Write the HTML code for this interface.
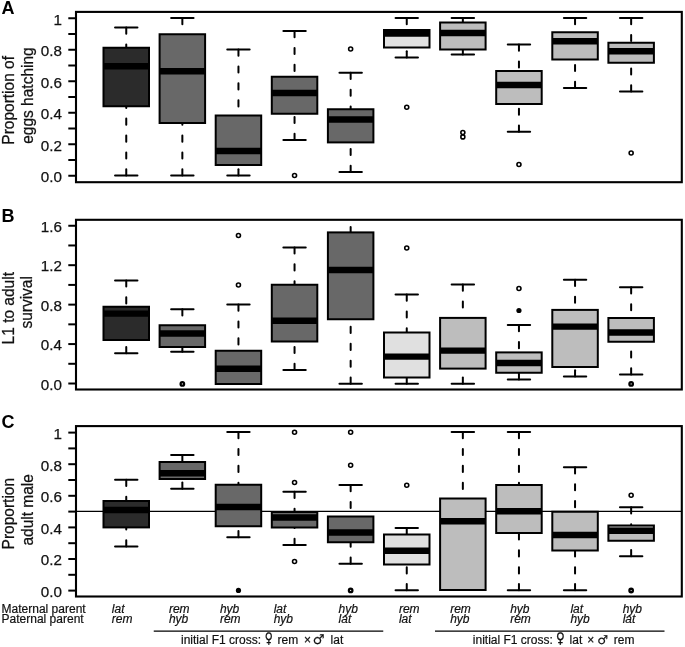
<!DOCTYPE html>
<html><head><meta charset="utf-8"><title>Figure</title>
<style>
html,body{margin:0;padding:0;background:#fff;}
svg{display:block}
text{font-family:"Liberation Sans",Arial,Helvetica,sans-serif;fill:#111}
 .tl{font-size:15.2px;stroke:#111;stroke-width:0.25px}
.yl{font-size:15.5px;stroke:#111;stroke-width:0.25px}
.pl{font-size:18px;font-weight:bold;fill:#000}
.bl{font-size:12px;stroke:#111;stroke-width:0.2px}
.it{font-size:12px;font-style:italic;stroke:#111;stroke-width:0.2px}
.sym{font-size:12px;font-family:"DejaVu Sans","Liberation Sans",sans-serif}
</style></head><body>
<svg width="685" height="647" viewBox="0 0 685 647">
<rect width="685" height="647" fill="#fff"/>
<text x="1.6" y="13.8" class="pl">A</text>
<text transform="translate(13.6,144.7) rotate(-90) scale(1,1.08)" class="yl">Proportion of</text>
<text transform="translate(33.0,143.8) rotate(-90) scale(1,1.08)" class="yl">eggs hatching</text>
<line x1="68.3" y1="18.25" x2="76.0" y2="18.25" stroke="#000" stroke-width="2.0"/>
<line x1="68.3" y1="34.00" x2="76.0" y2="34.00" stroke="#000" stroke-width="2.0"/>
<line x1="68.3" y1="49.75" x2="76.0" y2="49.75" stroke="#000" stroke-width="2.0"/>
<line x1="68.3" y1="65.50" x2="76.0" y2="65.50" stroke="#000" stroke-width="2.0"/>
<line x1="68.3" y1="81.25" x2="76.0" y2="81.25" stroke="#000" stroke-width="2.0"/>
<line x1="68.3" y1="97.00" x2="76.0" y2="97.00" stroke="#000" stroke-width="2.0"/>
<line x1="68.3" y1="112.75" x2="76.0" y2="112.75" stroke="#000" stroke-width="2.0"/>
<line x1="68.3" y1="128.50" x2="76.0" y2="128.50" stroke="#000" stroke-width="2.0"/>
<line x1="68.3" y1="144.25" x2="76.0" y2="144.25" stroke="#000" stroke-width="2.0"/>
<line x1="68.3" y1="160.00" x2="76.0" y2="160.00" stroke="#000" stroke-width="2.0"/>
<line x1="68.3" y1="175.75" x2="76.0" y2="175.75" stroke="#000" stroke-width="2.0"/>
<text transform="translate(61.9,24.55) scale(1,1.0)" text-anchor="end" class="tl">1</text>
<text transform="translate(61.9,56.05) scale(1,1.0)" text-anchor="end" class="tl">0.8</text>
<text transform="translate(61.9,87.55) scale(1,1.0)" text-anchor="end" class="tl">0.6</text>
<text transform="translate(61.9,119.05) scale(1,1.0)" text-anchor="end" class="tl">0.4</text>
<text transform="translate(61.9,150.55) scale(1,1.0)" text-anchor="end" class="tl">0.2</text>
<text transform="translate(61.9,182.05) scale(1,1.0)" text-anchor="end" class="tl">0.0</text>
<line x1="126.25" y1="27.50" x2="126.25" y2="47.75" stroke="#000" stroke-width="2.0" stroke-dasharray="6.2 10.7" stroke-linecap="round"/>
<line x1="115.05" y1="27.50" x2="137.45" y2="27.50" stroke="#000" stroke-width="2.0" stroke-linecap="round"/>
<line x1="126.25" y1="175.50" x2="126.25" y2="106.25" stroke="#000" stroke-width="2.0" stroke-dasharray="6.2 10.7" stroke-linecap="round"/>
<line x1="115.05" y1="175.50" x2="137.45" y2="175.50" stroke="#000" stroke-width="2.0" stroke-linecap="round"/>
<rect x="103.50" y="47.75" width="45.50" height="58.50" fill="#2b2b2b" stroke="#000" stroke-width="2.0"/>
<line x1="103.50" y1="66.30" x2="149.00" y2="66.30" stroke="#000" stroke-width="6.4"/>
<line x1="182.35" y1="18.00" x2="182.35" y2="34.25" stroke="#000" stroke-width="2.0" stroke-dasharray="6.2 10.7" stroke-linecap="round"/>
<line x1="171.15" y1="18.00" x2="193.55" y2="18.00" stroke="#000" stroke-width="2.0" stroke-linecap="round"/>
<line x1="182.35" y1="175.50" x2="182.35" y2="123.00" stroke="#000" stroke-width="2.0" stroke-dasharray="6.2 10.7" stroke-linecap="round"/>
<line x1="171.15" y1="175.50" x2="193.55" y2="175.50" stroke="#000" stroke-width="2.0" stroke-linecap="round"/>
<rect x="159.60" y="34.25" width="45.50" height="88.75" fill="#686868" stroke="#000" stroke-width="2.0"/>
<line x1="159.60" y1="71.25" x2="205.10" y2="71.25" stroke="#000" stroke-width="6.4"/>
<line x1="238.45" y1="49.50" x2="238.45" y2="115.50" stroke="#000" stroke-width="2.0" stroke-dasharray="6.2 10.7" stroke-linecap="round"/>
<line x1="227.25" y1="49.50" x2="249.65" y2="49.50" stroke="#000" stroke-width="2.0" stroke-linecap="round"/>
<line x1="238.45" y1="175.50" x2="238.45" y2="165.00" stroke="#000" stroke-width="2.0" stroke-dasharray="6.2 10.7" stroke-linecap="round"/>
<line x1="227.25" y1="175.50" x2="249.65" y2="175.50" stroke="#000" stroke-width="2.0" stroke-linecap="round"/>
<rect x="215.70" y="115.50" width="45.50" height="49.50" fill="#686868" stroke="#000" stroke-width="2.0"/>
<line x1="215.70" y1="151.00" x2="261.20" y2="151.00" stroke="#000" stroke-width="6.4"/>
<line x1="294.55" y1="31.00" x2="294.55" y2="76.75" stroke="#000" stroke-width="2.0" stroke-dasharray="6.2 10.7" stroke-linecap="round"/>
<line x1="283.35" y1="31.00" x2="305.75" y2="31.00" stroke="#000" stroke-width="2.0" stroke-linecap="round"/>
<line x1="294.55" y1="140.00" x2="294.55" y2="113.75" stroke="#000" stroke-width="2.0" stroke-dasharray="6.2 10.7" stroke-linecap="round"/>
<line x1="283.35" y1="140.00" x2="305.75" y2="140.00" stroke="#000" stroke-width="2.0" stroke-linecap="round"/>
<rect x="271.80" y="76.75" width="45.50" height="37.00" fill="#686868" stroke="#000" stroke-width="2.0"/>
<line x1="271.80" y1="93.00" x2="317.30" y2="93.00" stroke="#000" stroke-width="6.4"/>
<circle cx="294.55" cy="175.50" r="2.0" fill="none" stroke="#000" stroke-width="1.6"/>
<line x1="350.65" y1="72.75" x2="350.65" y2="109.25" stroke="#000" stroke-width="2.0" stroke-dasharray="6.2 10.7" stroke-linecap="round"/>
<line x1="339.45" y1="72.75" x2="361.85" y2="72.75" stroke="#000" stroke-width="2.0" stroke-linecap="round"/>
<line x1="350.65" y1="172.00" x2="350.65" y2="142.40" stroke="#000" stroke-width="2.0" stroke-dasharray="6.2 10.7" stroke-linecap="round"/>
<line x1="339.45" y1="172.00" x2="361.85" y2="172.00" stroke="#000" stroke-width="2.0" stroke-linecap="round"/>
<rect x="327.90" y="109.25" width="45.50" height="33.15" fill="#686868" stroke="#000" stroke-width="2.0"/>
<line x1="327.90" y1="119.50" x2="373.40" y2="119.50" stroke="#000" stroke-width="6.4"/>
<circle cx="350.65" cy="49.00" r="2.0" fill="none" stroke="#000" stroke-width="1.6"/>
<line x1="406.75" y1="18.00" x2="406.75" y2="30.00" stroke="#000" stroke-width="2.0" stroke-dasharray="6.2 10.7" stroke-linecap="round"/>
<line x1="395.55" y1="18.00" x2="417.95" y2="18.00" stroke="#000" stroke-width="2.0" stroke-linecap="round"/>
<line x1="406.75" y1="57.50" x2="406.75" y2="47.50" stroke="#000" stroke-width="2.0" stroke-dasharray="6.2 10.7" stroke-linecap="round"/>
<line x1="395.55" y1="57.50" x2="417.95" y2="57.50" stroke="#000" stroke-width="2.0" stroke-linecap="round"/>
<rect x="384.00" y="30.00" width="45.50" height="17.50" fill="#e0e0e0" stroke="#000" stroke-width="2.0"/>
<line x1="384.00" y1="33.60" x2="429.50" y2="33.60" stroke="#000" stroke-width="6.4"/>
<circle cx="406.75" cy="107.25" r="2.0" fill="none" stroke="#000" stroke-width="1.6"/>
<line x1="462.85" y1="18.00" x2="462.85" y2="22.50" stroke="#000" stroke-width="2.0" stroke-dasharray="6.2 10.7" stroke-linecap="round"/>
<line x1="451.65" y1="18.00" x2="474.05" y2="18.00" stroke="#000" stroke-width="2.0" stroke-linecap="round"/>
<line x1="462.85" y1="54.50" x2="462.85" y2="49.50" stroke="#000" stroke-width="2.0" stroke-dasharray="6.2 10.7" stroke-linecap="round"/>
<line x1="451.65" y1="54.50" x2="474.05" y2="54.50" stroke="#000" stroke-width="2.0" stroke-linecap="round"/>
<rect x="440.10" y="22.50" width="45.50" height="27.00" fill="#bdbdbd" stroke="#000" stroke-width="2.0"/>
<line x1="440.10" y1="33.00" x2="485.60" y2="33.00" stroke="#000" stroke-width="6.4"/>
<circle cx="462.85" cy="132.50" r="2.0" fill="none" stroke="#000" stroke-width="1.6"/>
<circle cx="462.85" cy="136.90" r="2.0" fill="none" stroke="#000" stroke-width="1.6"/>
<line x1="518.95" y1="44.50" x2="518.95" y2="71.00" stroke="#000" stroke-width="2.0" stroke-dasharray="6.2 10.7" stroke-linecap="round"/>
<line x1="507.75" y1="44.50" x2="530.15" y2="44.50" stroke="#000" stroke-width="2.0" stroke-linecap="round"/>
<line x1="518.95" y1="131.75" x2="518.95" y2="104.00" stroke="#000" stroke-width="2.0" stroke-dasharray="6.2 10.7" stroke-linecap="round"/>
<line x1="507.75" y1="131.75" x2="530.15" y2="131.75" stroke="#000" stroke-width="2.0" stroke-linecap="round"/>
<rect x="496.20" y="71.00" width="45.50" height="33.00" fill="#bdbdbd" stroke="#000" stroke-width="2.0"/>
<line x1="496.20" y1="85.00" x2="541.70" y2="85.00" stroke="#000" stroke-width="6.4"/>
<circle cx="518.95" cy="164.50" r="2.0" fill="none" stroke="#000" stroke-width="1.6"/>
<line x1="575.05" y1="18.00" x2="575.05" y2="32.25" stroke="#000" stroke-width="2.0" stroke-dasharray="6.2 10.7" stroke-linecap="round"/>
<line x1="563.85" y1="18.00" x2="586.25" y2="18.00" stroke="#000" stroke-width="2.0" stroke-linecap="round"/>
<line x1="575.05" y1="88.00" x2="575.05" y2="59.50" stroke="#000" stroke-width="2.0" stroke-dasharray="6.2 10.7" stroke-linecap="round"/>
<line x1="563.85" y1="88.00" x2="586.25" y2="88.00" stroke="#000" stroke-width="2.0" stroke-linecap="round"/>
<rect x="552.30" y="32.25" width="45.50" height="27.25" fill="#bdbdbd" stroke="#000" stroke-width="2.0"/>
<line x1="552.30" y1="41.25" x2="597.80" y2="41.25" stroke="#000" stroke-width="6.4"/>
<line x1="631.15" y1="18.00" x2="631.15" y2="42.75" stroke="#000" stroke-width="2.0" stroke-dasharray="6.2 10.7" stroke-linecap="round"/>
<line x1="619.95" y1="18.00" x2="642.35" y2="18.00" stroke="#000" stroke-width="2.0" stroke-linecap="round"/>
<line x1="631.15" y1="91.50" x2="631.15" y2="62.75" stroke="#000" stroke-width="2.0" stroke-dasharray="6.2 10.7" stroke-linecap="round"/>
<line x1="619.95" y1="91.50" x2="642.35" y2="91.50" stroke="#000" stroke-width="2.0" stroke-linecap="round"/>
<rect x="608.40" y="42.75" width="45.50" height="20.00" fill="#bdbdbd" stroke="#000" stroke-width="2.0"/>
<line x1="608.40" y1="51.25" x2="653.90" y2="51.25" stroke="#000" stroke-width="6.4"/>
<circle cx="631.15" cy="153.00" r="2.0" fill="none" stroke="#000" stroke-width="1.6"/>
<rect x="76.0" y="11.9" width="605.8" height="170.29999999999998" fill="none" stroke="#000" stroke-width="2.1"/>
<text x="1.4" y="222" class="pl">B</text>
<text transform="translate(13.8,344.4) rotate(-90) scale(1,1.08)" class="yl">L1 to adult</text>
<text transform="translate(32.0,328.6) rotate(-90) scale(1,1.08)" class="yl">survival</text>
<line x1="68.3" y1="225.75" x2="76.0" y2="225.75" stroke="#000" stroke-width="2.0"/>
<line x1="68.3" y1="245.47" x2="76.0" y2="245.47" stroke="#000" stroke-width="2.0"/>
<line x1="68.3" y1="265.19" x2="76.0" y2="265.19" stroke="#000" stroke-width="2.0"/>
<line x1="68.3" y1="284.91" x2="76.0" y2="284.91" stroke="#000" stroke-width="2.0"/>
<line x1="68.3" y1="304.63" x2="76.0" y2="304.63" stroke="#000" stroke-width="2.0"/>
<line x1="68.3" y1="324.35" x2="76.0" y2="324.35" stroke="#000" stroke-width="2.0"/>
<line x1="68.3" y1="344.07" x2="76.0" y2="344.07" stroke="#000" stroke-width="2.0"/>
<line x1="68.3" y1="363.79" x2="76.0" y2="363.79" stroke="#000" stroke-width="2.0"/>
<line x1="68.3" y1="383.51" x2="76.0" y2="383.51" stroke="#000" stroke-width="2.0"/>
<text transform="translate(61.9,232.05) scale(1,1.0)" text-anchor="end" class="tl">1.6</text>
<text transform="translate(61.9,271.49) scale(1,1.0)" text-anchor="end" class="tl">1.2</text>
<text transform="translate(61.9,310.93) scale(1,1.0)" text-anchor="end" class="tl">0.8</text>
<text transform="translate(61.9,350.37) scale(1,1.0)" text-anchor="end" class="tl">0.4</text>
<text transform="translate(61.9,389.81) scale(1,1.0)" text-anchor="end" class="tl">0.0</text>
<line x1="126.25" y1="280.40" x2="126.25" y2="306.75" stroke="#000" stroke-width="2.0" stroke-dasharray="6.2 10.7" stroke-linecap="round"/>
<line x1="115.05" y1="280.40" x2="137.45" y2="280.40" stroke="#000" stroke-width="2.0" stroke-linecap="round"/>
<line x1="126.25" y1="353.20" x2="126.25" y2="340.00" stroke="#000" stroke-width="2.0" stroke-dasharray="6.2 10.7" stroke-linecap="round"/>
<line x1="115.05" y1="353.20" x2="137.45" y2="353.20" stroke="#000" stroke-width="2.0" stroke-linecap="round"/>
<rect x="103.50" y="306.75" width="45.50" height="33.25" fill="#2b2b2b" stroke="#000" stroke-width="2.0"/>
<line x1="103.50" y1="313.60" x2="149.00" y2="313.60" stroke="#000" stroke-width="6.4"/>
<line x1="182.35" y1="309.25" x2="182.35" y2="325.25" stroke="#000" stroke-width="2.0" stroke-dasharray="6.2 10.7" stroke-linecap="round"/>
<line x1="171.15" y1="309.25" x2="193.55" y2="309.25" stroke="#000" stroke-width="2.0" stroke-linecap="round"/>
<line x1="182.35" y1="351.75" x2="182.35" y2="347.00" stroke="#000" stroke-width="2.0" stroke-dasharray="6.2 10.7" stroke-linecap="round"/>
<line x1="171.15" y1="351.75" x2="193.55" y2="351.75" stroke="#000" stroke-width="2.0" stroke-linecap="round"/>
<rect x="159.60" y="325.25" width="45.50" height="21.75" fill="#686868" stroke="#000" stroke-width="2.0"/>
<line x1="159.60" y1="333.50" x2="205.10" y2="333.50" stroke="#000" stroke-width="6.4"/>
<circle cx="182.35" cy="383.90" r="1.75" fill="none" stroke="#000" stroke-width="2.3"/>
<line x1="238.45" y1="304.50" x2="238.45" y2="350.75" stroke="#000" stroke-width="2.0" stroke-dasharray="6.2 10.7" stroke-linecap="round"/>
<line x1="227.25" y1="304.50" x2="249.65" y2="304.50" stroke="#000" stroke-width="2.0" stroke-linecap="round"/>
<line x1="238.45" y1="384.00" x2="238.45" y2="384.00" stroke="#000" stroke-width="2.0" stroke-dasharray="6.2 10.7" stroke-linecap="round"/>
<line x1="227.25" y1="384.00" x2="249.65" y2="384.00" stroke="#000" stroke-width="2.0" stroke-linecap="round"/>
<rect x="215.70" y="350.75" width="45.50" height="33.25" fill="#686868" stroke="#000" stroke-width="2.0"/>
<line x1="215.70" y1="368.75" x2="261.20" y2="368.75" stroke="#000" stroke-width="6.4"/>
<circle cx="238.45" cy="235.50" r="2.0" fill="none" stroke="#000" stroke-width="1.6"/>
<circle cx="238.45" cy="285.00" r="2.0" fill="none" stroke="#000" stroke-width="1.6"/>
<line x1="294.55" y1="247.40" x2="294.55" y2="284.75" stroke="#000" stroke-width="2.0" stroke-dasharray="6.2 10.7" stroke-linecap="round"/>
<line x1="283.35" y1="247.40" x2="305.75" y2="247.40" stroke="#000" stroke-width="2.0" stroke-linecap="round"/>
<line x1="294.55" y1="370.00" x2="294.55" y2="341.50" stroke="#000" stroke-width="2.0" stroke-dasharray="6.2 10.7" stroke-linecap="round"/>
<line x1="283.35" y1="370.00" x2="305.75" y2="370.00" stroke="#000" stroke-width="2.0" stroke-linecap="round"/>
<rect x="271.80" y="284.75" width="45.50" height="56.75" fill="#686868" stroke="#000" stroke-width="2.0"/>
<line x1="271.80" y1="320.75" x2="317.30" y2="320.75" stroke="#000" stroke-width="6.4"/>
<line x1="350.65" y1="227.00" x2="350.65" y2="232.40" stroke="#000" stroke-width="2.0" stroke-dasharray="6.2 10.7" stroke-linecap="round"/>
<line x1="350.65" y1="383.75" x2="350.65" y2="319.25" stroke="#000" stroke-width="2.0" stroke-dasharray="6.2 10.7" stroke-linecap="round"/>
<line x1="339.45" y1="383.75" x2="361.85" y2="383.75" stroke="#000" stroke-width="2.0" stroke-linecap="round"/>
<rect x="327.90" y="232.40" width="45.50" height="86.85" fill="#686868" stroke="#000" stroke-width="2.0"/>
<line x1="327.90" y1="270.00" x2="373.40" y2="270.00" stroke="#000" stroke-width="6.4"/>
<line x1="406.75" y1="294.50" x2="406.75" y2="332.50" stroke="#000" stroke-width="2.0" stroke-dasharray="6.2 10.7" stroke-linecap="round"/>
<line x1="395.55" y1="294.50" x2="417.95" y2="294.50" stroke="#000" stroke-width="2.0" stroke-linecap="round"/>
<line x1="406.75" y1="383.75" x2="406.75" y2="377.50" stroke="#000" stroke-width="2.0" stroke-dasharray="6.2 10.7" stroke-linecap="round"/>
<line x1="395.55" y1="383.75" x2="417.95" y2="383.75" stroke="#000" stroke-width="2.0" stroke-linecap="round"/>
<rect x="384.00" y="332.50" width="45.50" height="45.00" fill="#e0e0e0" stroke="#000" stroke-width="2.0"/>
<line x1="384.00" y1="356.60" x2="429.50" y2="356.60" stroke="#000" stroke-width="6.4"/>
<circle cx="406.75" cy="248.00" r="2.0" fill="none" stroke="#000" stroke-width="1.6"/>
<line x1="462.85" y1="284.50" x2="462.85" y2="317.90" stroke="#000" stroke-width="2.0" stroke-dasharray="6.2 10.7" stroke-linecap="round"/>
<line x1="451.65" y1="284.50" x2="474.05" y2="284.50" stroke="#000" stroke-width="2.0" stroke-linecap="round"/>
<line x1="462.85" y1="383.75" x2="462.85" y2="368.60" stroke="#000" stroke-width="2.0" stroke-dasharray="6.2 10.7" stroke-linecap="round"/>
<line x1="451.65" y1="383.75" x2="474.05" y2="383.75" stroke="#000" stroke-width="2.0" stroke-linecap="round"/>
<rect x="440.10" y="317.90" width="45.50" height="50.70" fill="#bdbdbd" stroke="#000" stroke-width="2.0"/>
<line x1="440.10" y1="350.60" x2="485.60" y2="350.60" stroke="#000" stroke-width="6.4"/>
<line x1="518.95" y1="325.10" x2="518.95" y2="352.40" stroke="#000" stroke-width="2.0" stroke-dasharray="6.2 10.7" stroke-linecap="round"/>
<line x1="507.75" y1="325.10" x2="530.15" y2="325.10" stroke="#000" stroke-width="2.0" stroke-linecap="round"/>
<line x1="518.95" y1="379.50" x2="518.95" y2="372.75" stroke="#000" stroke-width="2.0" stroke-dasharray="6.2 10.7" stroke-linecap="round"/>
<line x1="507.75" y1="379.50" x2="530.15" y2="379.50" stroke="#000" stroke-width="2.0" stroke-linecap="round"/>
<rect x="496.20" y="352.40" width="45.50" height="20.35" fill="#bdbdbd" stroke="#000" stroke-width="2.0"/>
<line x1="496.20" y1="363.00" x2="541.70" y2="363.00" stroke="#000" stroke-width="6.4"/>
<circle cx="518.95" cy="288.50" r="2.0" fill="none" stroke="#000" stroke-width="1.6"/>
<circle cx="518.95" cy="310.50" r="2.6" fill="#000"/>
<line x1="575.05" y1="279.75" x2="575.05" y2="309.90" stroke="#000" stroke-width="2.0" stroke-dasharray="6.2 10.7" stroke-linecap="round"/>
<line x1="563.85" y1="279.75" x2="586.25" y2="279.75" stroke="#000" stroke-width="2.0" stroke-linecap="round"/>
<line x1="575.05" y1="376.50" x2="575.05" y2="367.00" stroke="#000" stroke-width="2.0" stroke-dasharray="6.2 10.7" stroke-linecap="round"/>
<line x1="563.85" y1="376.50" x2="586.25" y2="376.50" stroke="#000" stroke-width="2.0" stroke-linecap="round"/>
<rect x="552.30" y="309.90" width="45.50" height="57.10" fill="#bdbdbd" stroke="#000" stroke-width="2.0"/>
<line x1="552.30" y1="326.60" x2="597.80" y2="326.60" stroke="#000" stroke-width="6.4"/>
<line x1="631.15" y1="287.25" x2="631.15" y2="318.00" stroke="#000" stroke-width="2.0" stroke-dasharray="6.2 10.7" stroke-linecap="round"/>
<line x1="619.95" y1="287.25" x2="642.35" y2="287.25" stroke="#000" stroke-width="2.0" stroke-linecap="round"/>
<line x1="631.15" y1="374.50" x2="631.15" y2="341.75" stroke="#000" stroke-width="2.0" stroke-dasharray="6.2 10.7" stroke-linecap="round"/>
<line x1="619.95" y1="374.50" x2="642.35" y2="374.50" stroke="#000" stroke-width="2.0" stroke-linecap="round"/>
<rect x="608.40" y="318.00" width="45.50" height="23.75" fill="#bdbdbd" stroke="#000" stroke-width="2.0"/>
<line x1="608.40" y1="332.50" x2="653.90" y2="332.50" stroke="#000" stroke-width="6.4"/>
<circle cx="631.15" cy="383.90" r="1.75" fill="none" stroke="#000" stroke-width="2.3"/>
<rect x="76.0" y="219.8" width="605.8" height="169.7" fill="none" stroke="#000" stroke-width="2.1"/>
<text x="1.6" y="428" class="pl">C</text>
<text transform="translate(13.6,549.4) rotate(-90) scale(1,1.08)" class="yl">Proportion</text>
<text transform="translate(33.3,545.6) rotate(-90) scale(1,1.08)" class="yl">adult male</text>
<line x1="68.3" y1="432.60" x2="76.0" y2="432.60" stroke="#000" stroke-width="2.0"/>
<line x1="68.3" y1="448.40" x2="76.0" y2="448.40" stroke="#000" stroke-width="2.0"/>
<line x1="68.3" y1="464.20" x2="76.0" y2="464.20" stroke="#000" stroke-width="2.0"/>
<line x1="68.3" y1="480.00" x2="76.0" y2="480.00" stroke="#000" stroke-width="2.0"/>
<line x1="68.3" y1="495.80" x2="76.0" y2="495.80" stroke="#000" stroke-width="2.0"/>
<line x1="68.3" y1="511.60" x2="76.0" y2="511.60" stroke="#000" stroke-width="2.0"/>
<line x1="68.3" y1="527.40" x2="76.0" y2="527.40" stroke="#000" stroke-width="2.0"/>
<line x1="68.3" y1="543.20" x2="76.0" y2="543.20" stroke="#000" stroke-width="2.0"/>
<line x1="68.3" y1="559.00" x2="76.0" y2="559.00" stroke="#000" stroke-width="2.0"/>
<line x1="68.3" y1="574.80" x2="76.0" y2="574.80" stroke="#000" stroke-width="2.0"/>
<line x1="68.3" y1="590.60" x2="76.0" y2="590.60" stroke="#000" stroke-width="2.0"/>
<text transform="translate(61.9,438.90) scale(1,1.0)" text-anchor="end" class="tl">1</text>
<text transform="translate(61.9,470.50) scale(1,1.0)" text-anchor="end" class="tl">0.8</text>
<text transform="translate(61.9,502.10) scale(1,1.0)" text-anchor="end" class="tl">0.6</text>
<text transform="translate(61.9,533.70) scale(1,1.0)" text-anchor="end" class="tl">0.4</text>
<text transform="translate(61.9,565.30) scale(1,1.0)" text-anchor="end" class="tl">0.2</text>
<text transform="translate(61.9,596.90) scale(1,1.0)" text-anchor="end" class="tl">0.0</text>
<line x1="76.0" y1="511.4" x2="681.8" y2="511.4" stroke="#000" stroke-width="1.4"/>
<line x1="126.25" y1="479.75" x2="126.25" y2="501.00" stroke="#000" stroke-width="2.0" stroke-dasharray="6.2 10.7" stroke-linecap="round"/>
<line x1="115.05" y1="479.75" x2="137.45" y2="479.75" stroke="#000" stroke-width="2.0" stroke-linecap="round"/>
<line x1="126.25" y1="546.50" x2="126.25" y2="527.40" stroke="#000" stroke-width="2.0" stroke-dasharray="6.2 10.7" stroke-linecap="round"/>
<line x1="115.05" y1="546.50" x2="137.45" y2="546.50" stroke="#000" stroke-width="2.0" stroke-linecap="round"/>
<rect x="103.50" y="501.00" width="45.50" height="26.40" fill="#2b2b2b" stroke="#000" stroke-width="2.0"/>
<line x1="103.50" y1="510.00" x2="149.00" y2="510.00" stroke="#000" stroke-width="6.4"/>
<line x1="182.35" y1="455.00" x2="182.35" y2="462.00" stroke="#000" stroke-width="2.0" stroke-dasharray="6.2 10.7" stroke-linecap="round"/>
<line x1="171.15" y1="455.00" x2="193.55" y2="455.00" stroke="#000" stroke-width="2.0" stroke-linecap="round"/>
<line x1="182.35" y1="488.75" x2="182.35" y2="479.00" stroke="#000" stroke-width="2.0" stroke-dasharray="6.2 10.7" stroke-linecap="round"/>
<line x1="171.15" y1="488.75" x2="193.55" y2="488.75" stroke="#000" stroke-width="2.0" stroke-linecap="round"/>
<rect x="159.60" y="462.00" width="45.50" height="17.00" fill="#686868" stroke="#000" stroke-width="2.0"/>
<line x1="159.60" y1="473.25" x2="205.10" y2="473.25" stroke="#000" stroke-width="6.4"/>
<line x1="238.45" y1="432.00" x2="238.45" y2="484.75" stroke="#000" stroke-width="2.0" stroke-dasharray="6.2 10.7" stroke-linecap="round"/>
<line x1="227.25" y1="432.00" x2="249.65" y2="432.00" stroke="#000" stroke-width="2.0" stroke-linecap="round"/>
<line x1="238.45" y1="537.25" x2="238.45" y2="526.25" stroke="#000" stroke-width="2.0" stroke-dasharray="6.2 10.7" stroke-linecap="round"/>
<line x1="227.25" y1="537.25" x2="249.65" y2="537.25" stroke="#000" stroke-width="2.0" stroke-linecap="round"/>
<rect x="215.70" y="484.75" width="45.50" height="41.50" fill="#686868" stroke="#000" stroke-width="2.0"/>
<line x1="215.70" y1="507.00" x2="261.20" y2="507.00" stroke="#000" stroke-width="6.4"/>
<circle cx="238.45" cy="590.40" r="2.6" fill="#000"/>
<line x1="294.55" y1="491.75" x2="294.55" y2="512.00" stroke="#000" stroke-width="2.0" stroke-dasharray="6.2 10.7" stroke-linecap="round"/>
<line x1="283.35" y1="491.75" x2="305.75" y2="491.75" stroke="#000" stroke-width="2.0" stroke-linecap="round"/>
<line x1="294.55" y1="545.00" x2="294.55" y2="527.50" stroke="#000" stroke-width="2.0" stroke-dasharray="6.2 10.7" stroke-linecap="round"/>
<line x1="283.35" y1="545.00" x2="305.75" y2="545.00" stroke="#000" stroke-width="2.0" stroke-linecap="round"/>
<rect x="271.80" y="512.00" width="45.50" height="15.50" fill="#686868" stroke="#000" stroke-width="2.0"/>
<line x1="271.80" y1="517.50" x2="317.30" y2="517.50" stroke="#000" stroke-width="6.4"/>
<circle cx="294.55" cy="432.25" r="2.0" fill="none" stroke="#000" stroke-width="1.6"/>
<circle cx="294.55" cy="482.50" r="2.0" fill="none" stroke="#000" stroke-width="1.6"/>
<circle cx="294.55" cy="561.50" r="2.0" fill="none" stroke="#000" stroke-width="1.6"/>
<line x1="350.65" y1="485.00" x2="350.65" y2="516.50" stroke="#000" stroke-width="2.0" stroke-dasharray="6.2 10.7" stroke-linecap="round"/>
<line x1="339.45" y1="485.00" x2="361.85" y2="485.00" stroke="#000" stroke-width="2.0" stroke-linecap="round"/>
<line x1="350.65" y1="563.75" x2="350.65" y2="542.25" stroke="#000" stroke-width="2.0" stroke-dasharray="6.2 10.7" stroke-linecap="round"/>
<line x1="339.45" y1="563.75" x2="361.85" y2="563.75" stroke="#000" stroke-width="2.0" stroke-linecap="round"/>
<rect x="327.90" y="516.50" width="45.50" height="25.75" fill="#686868" stroke="#000" stroke-width="2.0"/>
<line x1="327.90" y1="532.50" x2="373.40" y2="532.50" stroke="#000" stroke-width="6.4"/>
<circle cx="350.65" cy="432.25" r="2.0" fill="none" stroke="#000" stroke-width="1.6"/>
<circle cx="350.65" cy="465.25" r="2.0" fill="none" stroke="#000" stroke-width="1.6"/>
<circle cx="350.65" cy="590.40" r="1.75" fill="none" stroke="#000" stroke-width="2.3"/>
<line x1="406.75" y1="528.00" x2="406.75" y2="534.50" stroke="#000" stroke-width="2.0" stroke-dasharray="6.2 10.7" stroke-linecap="round"/>
<line x1="395.55" y1="528.00" x2="417.95" y2="528.00" stroke="#000" stroke-width="2.0" stroke-linecap="round"/>
<line x1="406.75" y1="590.30" x2="406.75" y2="564.50" stroke="#000" stroke-width="2.0" stroke-dasharray="6.2 10.7" stroke-linecap="round"/>
<line x1="395.55" y1="590.30" x2="417.95" y2="590.30" stroke="#000" stroke-width="2.0" stroke-linecap="round"/>
<rect x="384.00" y="534.50" width="45.50" height="30.00" fill="#e0e0e0" stroke="#000" stroke-width="2.0"/>
<line x1="384.00" y1="550.75" x2="429.50" y2="550.75" stroke="#000" stroke-width="6.4"/>
<circle cx="406.75" cy="485.25" r="2.0" fill="none" stroke="#000" stroke-width="1.6"/>
<line x1="462.85" y1="432.00" x2="462.85" y2="498.50" stroke="#000" stroke-width="2.0" stroke-dasharray="6.2 10.7" stroke-linecap="round"/>
<line x1="451.65" y1="432.00" x2="474.05" y2="432.00" stroke="#000" stroke-width="2.0" stroke-linecap="round"/>
<line x1="462.85" y1="590.00" x2="462.85" y2="590.00" stroke="#000" stroke-width="2.0" stroke-dasharray="6.2 10.7" stroke-linecap="round"/>
<line x1="451.65" y1="590.00" x2="474.05" y2="590.00" stroke="#000" stroke-width="2.0" stroke-linecap="round"/>
<rect x="440.10" y="498.50" width="45.50" height="91.50" fill="#bdbdbd" stroke="#000" stroke-width="2.0"/>
<line x1="440.10" y1="521.25" x2="485.60" y2="521.25" stroke="#000" stroke-width="6.4"/>
<line x1="518.95" y1="432.00" x2="518.95" y2="485.00" stroke="#000" stroke-width="2.0" stroke-dasharray="6.2 10.7" stroke-linecap="round"/>
<line x1="507.75" y1="432.00" x2="530.15" y2="432.00" stroke="#000" stroke-width="2.0" stroke-linecap="round"/>
<line x1="518.95" y1="590.30" x2="518.95" y2="533.00" stroke="#000" stroke-width="2.0" stroke-dasharray="6.2 10.7" stroke-linecap="round"/>
<line x1="507.75" y1="590.30" x2="530.15" y2="590.30" stroke="#000" stroke-width="2.0" stroke-linecap="round"/>
<rect x="496.20" y="485.00" width="45.50" height="48.00" fill="#bdbdbd" stroke="#000" stroke-width="2.0"/>
<line x1="496.20" y1="511.25" x2="541.70" y2="511.25" stroke="#000" stroke-width="6.4"/>
<line x1="575.05" y1="467.25" x2="575.05" y2="511.75" stroke="#000" stroke-width="2.0" stroke-dasharray="6.2 10.7" stroke-linecap="round"/>
<line x1="563.85" y1="467.25" x2="586.25" y2="467.25" stroke="#000" stroke-width="2.0" stroke-linecap="round"/>
<line x1="575.05" y1="590.30" x2="575.05" y2="550.50" stroke="#000" stroke-width="2.0" stroke-dasharray="6.2 10.7" stroke-linecap="round"/>
<line x1="563.85" y1="590.30" x2="586.25" y2="590.30" stroke="#000" stroke-width="2.0" stroke-linecap="round"/>
<rect x="552.30" y="511.75" width="45.50" height="38.75" fill="#bdbdbd" stroke="#000" stroke-width="2.0"/>
<line x1="552.30" y1="535.00" x2="597.80" y2="535.00" stroke="#000" stroke-width="6.4"/>
<line x1="631.15" y1="507.25" x2="631.15" y2="525.50" stroke="#000" stroke-width="2.0" stroke-dasharray="6.2 10.7" stroke-linecap="round"/>
<line x1="619.95" y1="507.25" x2="642.35" y2="507.25" stroke="#000" stroke-width="2.0" stroke-linecap="round"/>
<line x1="631.15" y1="556.25" x2="631.15" y2="540.75" stroke="#000" stroke-width="2.0" stroke-dasharray="6.2 10.7" stroke-linecap="round"/>
<line x1="619.95" y1="556.25" x2="642.35" y2="556.25" stroke="#000" stroke-width="2.0" stroke-linecap="round"/>
<rect x="608.40" y="525.50" width="45.50" height="15.25" fill="#bdbdbd" stroke="#000" stroke-width="2.0"/>
<line x1="608.40" y1="530.75" x2="653.90" y2="530.75" stroke="#000" stroke-width="6.4"/>
<circle cx="631.15" cy="495.25" r="2.0" fill="none" stroke="#000" stroke-width="1.6"/>
<circle cx="631.15" cy="590.50" r="1.75" fill="none" stroke="#000" stroke-width="2.3"/>
<rect x="76.0" y="426.1" width="605.8" height="170.39999999999998" fill="none" stroke="#000" stroke-width="2.1"/>
<text x="1.6" y="612.6" class="bl">Maternal parent</text>
<text x="1.6" y="623.2" class="bl">Paternal parent</text>
<text x="111.8" y="612.6" class="it">lat</text>
<text x="111.8" y="623.2" class="it">rem</text>
<text x="168.9" y="612.6" class="it">rem</text>
<text x="168.9" y="623.2" class="it">hyb</text>
<text x="219.9" y="612.6" class="it">hyb</text>
<text x="219.9" y="623.2" class="it">rem</text>
<text x="273.7" y="612.6" class="it">lat</text>
<text x="273.7" y="623.2" class="it">hyb</text>
<text x="338.6" y="612.6" class="it">hyb</text>
<text x="338.6" y="623.2" class="it">lat</text>
<text x="398.9" y="612.6" class="it">rem</text>
<text x="398.9" y="623.2" class="it">lat</text>
<text x="450.2" y="612.6" class="it">rem</text>
<text x="450.2" y="623.2" class="it">hyb</text>
<text x="510.2" y="612.6" class="it">hyb</text>
<text x="510.2" y="623.2" class="it">rem</text>
<text x="570.4" y="612.6" class="it">lat</text>
<text x="570.4" y="623.2" class="it">hyb</text>
<text x="622.7" y="612.6" class="it">hyb</text>
<text x="622.7" y="623.2" class="it">lat</text>
<line x1="153.75" y1="631.2" x2="383.25" y2="631.2" stroke="#000" stroke-width="1.3"/>
<line x1="435" y1="631.2" x2="664.5" y2="631.2" stroke="#000" stroke-width="1.3"/>
<text x="181" y="644" class="bl">initial F1 cross:</text>
<text transform="translate(264.8,642.5) scale(0.92,1.22)" class="sym" style="stroke:#111;stroke-width:0.25px">♀</text>
<text x="277.6" y="644" class="bl">rem</text>
<text x="303.9" y="644" class="bl">×</text>
<text x="312.7" y="643.5" class="sym" style="font-size:13.2px;stroke:#111;stroke-width:0.2px">♂</text>
<text x="330.6" y="644" class="bl">lat</text>
<text x="472.8" y="644" class="bl">initial F1 cross:</text>
<text transform="translate(556.0,642.5) scale(1.0,1.22)" class="sym" style="stroke:#111;stroke-width:0.25px">♀</text>
<text x="569.6" y="644" class="bl">lat</text>
<text x="587.3" y="644" class="bl">×</text>
<text x="597.3" y="643.5" class="sym" style="font-size:12.2px;stroke:#111;stroke-width:0.2px">♂</text>
<text x="613.8" y="644" class="bl">rem</text>
</svg>
</body></html>
